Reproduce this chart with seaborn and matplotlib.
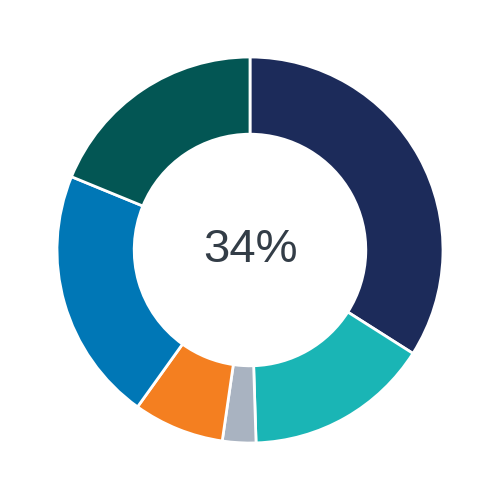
import matplotlib
matplotlib.use("Agg")
import matplotlib.pyplot as plt
import seaborn as sns

sns.set_style("white")
plt.rcParams['font.family'] = ['Liberation Sans', 'DejaVu Sans']

# slice shares (%), clockwise from 12 o'clock
segments = ['Navy', 'Teal', 'Gray', 'Orange', 'Blue', 'Dark green']
shares = [34, 15.5, 2.8, 7.6, 21.3, 18.8]
colors = ['#1c2b5a', '#1ab5b5', '#a9b3c1', '#f47f20', '#0077b6', '#035654']
center_label = "34%"

fig = plt.figure(figsize=(5, 5), dpi=100)
ax = fig.add_axes([0, 0, 1, 1])
ax.pie(shares, colors=colors, startangle=90, counterclock=False,
       radius=1.0,
       wedgeprops=dict(width=0.40, edgecolor='white', linewidth=2))
ax.text(0, 0.0, center_label, ha='center', va='center',
        fontsize=34, color='#333d47')
lim = 250 / 193
ax.set_xlim(-lim, lim)
ax.set_ylim(-lim, lim)
ax.set_aspect('equal')
ax.axis('off')

fig.savefig("out.png", dpi=100, facecolor='white')
plt.close(fig)
